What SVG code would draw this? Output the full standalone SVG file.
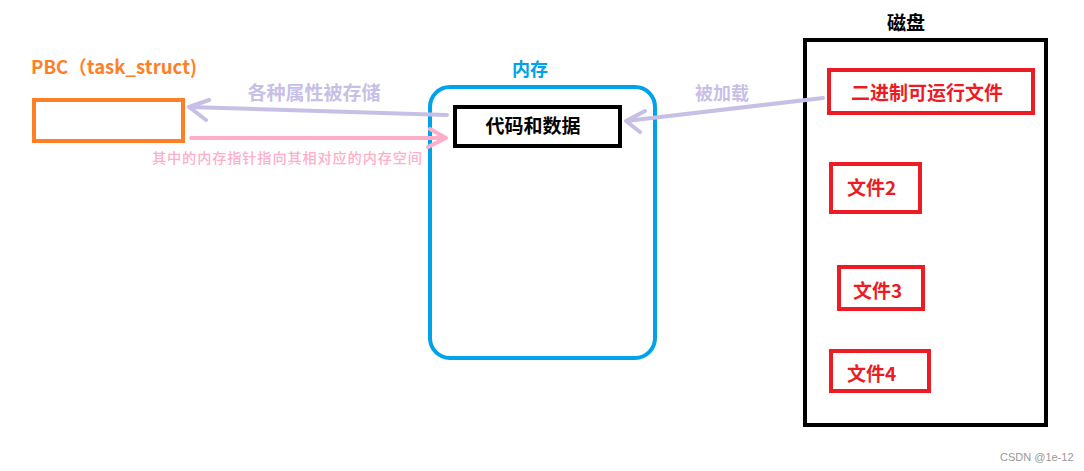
<svg xmlns="http://www.w3.org/2000/svg" width="1084" height="471" viewBox="0 0 1084 471">
<style>
text{font-family:"Noto Sans CJK SC","Microsoft YaHei",sans-serif;font-weight:bold}
.box{fill:none;stroke-width:4}
.red{stroke:#ED1C24}
.rt{fill:#ED1C24;font-size:19px}
.pur{stroke:#C8BFE7;stroke-width:4;fill:none;stroke-linecap:round;stroke-linejoin:round}
.pink{stroke:#FFAEC9;stroke-width:4;fill:none;stroke-linecap:round;stroke-linejoin:round}
</style>
<rect width="1084" height="471" fill="#fff"/>
<g id="pcb">
<text x="31" y="74" font-size="18.5" fill="#FF7F27" textLength="166">PBC（task_struct)</text>
<rect class="box" x="34" y="100" width="149" height="41" stroke="#FF7F27"/>
</g>
<g id="memory">
<text x="530" y="76" font-size="18" fill="#00A2E8" text-anchor="middle">内存</text>
<rect class="box" x="430" y="87" width="225" height="271" rx="20" stroke="#00A2E8"/>
</g>
<g id="code-data">
<rect class="box" x="455" y="107" width="165" height="39" stroke="#000"/>
<text x="533" y="133" font-size="19" fill="#000" text-anchor="middle">代码和数据</text>
</g>
<g id="disk">
<text x="906" y="30" font-size="19" fill="#000" text-anchor="middle">磁盘</text>
<rect class="box" x="805" y="40" width="241" height="385" stroke="#000"/>
</g>
<g id="exe">
<rect class="box red" x="829" y="70" width="204" height="43"/>
<text class="rt" x="851" y="100">二进制可运行文件</text>
</g>
<g id="file2">
<rect class="box red" x="831" y="164" width="89" height="48"/>
<text class="rt" x="847" y="195">文件2</text>
</g>
<g id="file3">
<rect class="box red" x="839" y="267" width="84" height="42"/>
<text class="rt" x="853" y="298">文件3</text>
</g>
<g id="file4">
<rect class="box red" x="831" y="351" width="98" height="40"/>
<text class="rt" x="847" y="381">文件4</text>
</g>
<g id="connectors">
<path class="pur" d="M447 115 L189 107 M209 100 L189 107 L206 120"/>
<text x="314" y="100" font-size="19" fill="#C8BFE7" text-anchor="middle">各种属性被存储</text>
<path class="pink" d="M191 138 L446 138 M430 129 L446 138 L428 147"/>
<text x="152" y="163" font-size="14.2" fill="#FFAEC9" textLength="270" style="font-weight:500">其中的内存指针指向其相对应的内存空间</text>
<path class="pur" d="M823 98 L626 121 M645 111 L626 121 L640 132"/>
<text x="722" y="100" font-size="18" fill="#C8BFE7" text-anchor="middle">被加载</text>
</g>
<text x="1000" y="461" font-size="11" fill="#999" style="font-weight:normal;font-family:'Liberation Sans',sans-serif">CSDN @1e-12</text>
</svg>
